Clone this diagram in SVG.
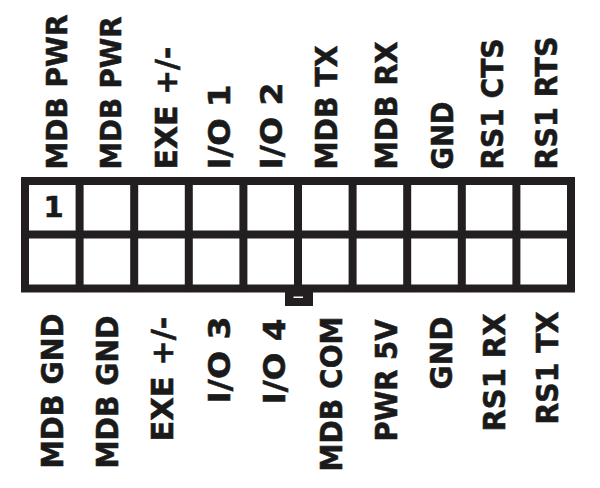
<svg xmlns="http://www.w3.org/2000/svg" width="600" height="488" viewBox="0 0 600 488">
<style>
.lbl{font-family:"DejaVu Sans","Liberation Sans",sans-serif;font-weight:bold;font-size:31px;fill:#1a1a1a;stroke:#1a1a1a;stroke-width:0.6}
.sm{font-size:29px}
.num{font-family:"DejaVu Sans","Liberation Sans",sans-serif;font-weight:bold;font-size:29px;fill:#1a1a1a;stroke:#1a1a1a;stroke-width:0.6}
.frame{fill:none;stroke:#231f20;stroke-width:8}
</style>
<rect width="600" height="488" fill="#ffffff"/>
<g id="header">
<rect class="frame" x="25" y="181" width="546" height="107.5"/>
<path class="frame" d="M79.6 181V288.5M134.2 181V288.5M188.8 181V288.5M243.4 181V288.5M298 181V288.5M352.6 181V288.5M407.2 181V288.5M461.8 181V288.5M516.4 181V288.5M25 234.5H571"/>
<rect x="285" y="292" width="28" height="14" fill="#231f20"/>
<rect x="293.5" y="296.5" width="9.5" height="1.5" fill="#ffffff"/>
<text class="num" x="53.5" y="217" text-anchor="middle">1</text>
</g>
<g id="connectors"></g>
<g id="top-labels">
<g id="t1"><text class="lbl sm" transform="translate(67,169.5) rotate(-90)" textLength="155" lengthAdjust="spacingAndGlyphs">MDB PWR</text></g>
<g id="t2"><text class="lbl sm" transform="translate(121,169.5) rotate(-90)" textLength="153" lengthAdjust="spacingAndGlyphs">MDB PWR</text></g>
<g id="t3"><text class="lbl" transform="translate(177,169.5) rotate(-90)" textLength="123" lengthAdjust="spacingAndGlyphs">EXE +/-</text></g>
<g id="t4"><text class="lbl" transform="translate(230,169.5) rotate(-90)" textLength="85" lengthAdjust="spacingAndGlyphs">I/O 1</text></g>
<g id="t5"><text class="lbl" transform="translate(282,169.5) rotate(-90)" textLength="87" lengthAdjust="spacingAndGlyphs">I/O 2</text></g>
<g id="t6"><text class="lbl" transform="translate(337,169.5) rotate(-90)" textLength="124" lengthAdjust="spacingAndGlyphs">MDB TX</text></g>
<g id="t7"><text class="lbl" transform="translate(397,169.5) rotate(-90)" textLength="128" lengthAdjust="spacingAndGlyphs">MDB RX</text></g>
<g id="t8"><text class="lbl" transform="translate(453,169.5) rotate(-90)" textLength="68" lengthAdjust="spacingAndGlyphs">GND</text></g>
<g id="t9"><text class="lbl" transform="translate(503,169.5) rotate(-90)" textLength="131" lengthAdjust="spacingAndGlyphs">RS1 CTS</text></g>
<g id="t10"><text class="lbl" transform="translate(557,169.5) rotate(-90)" textLength="133" lengthAdjust="spacingAndGlyphs">RS1 RTS</text></g>
</g>
<g id="bottom-labels">
<g id="b1"><text class="lbl" transform="translate(63,468.5) rotate(-90)" textLength="155" lengthAdjust="spacingAndGlyphs">MDB GND</text></g>
<g id="b2"><text class="lbl" transform="translate(118,468.5) rotate(-90)" textLength="153" lengthAdjust="spacingAndGlyphs">MDB GND</text></g>
<g id="b3"><text class="lbl" transform="translate(173,441.5) rotate(-90)" textLength="125" lengthAdjust="spacingAndGlyphs">EXE +/-</text></g>
<g id="b4"><text class="lbl" transform="translate(230,403.5) rotate(-90)" textLength="87" lengthAdjust="spacingAndGlyphs">I/O 3</text></g>
<g id="b5"><text class="lbl" transform="translate(285,404.5) rotate(-90)" textLength="86" lengthAdjust="spacingAndGlyphs">I/O 4</text></g>
<g id="b6"><text class="lbl" transform="translate(342,471.5) rotate(-90)" textLength="155" lengthAdjust="spacingAndGlyphs">MDB COM</text></g>
<g id="b7"><text class="lbl" transform="translate(397,441.5) rotate(-90)" textLength="122" lengthAdjust="spacingAndGlyphs">PWR 5V</text></g>
<g id="b8"><text class="lbl" transform="translate(452,389.5) rotate(-90)" textLength="73" lengthAdjust="spacingAndGlyphs">GND</text></g>
<g id="b9"><text class="lbl" transform="translate(505,431.5) rotate(-90)" textLength="118" lengthAdjust="spacingAndGlyphs">RS1 RX</text></g>
<g id="b10"><text class="lbl" transform="translate(558,424.5) rotate(-90)" textLength="113" lengthAdjust="spacingAndGlyphs">RS1 TX</text></g>
</g>
</svg>
